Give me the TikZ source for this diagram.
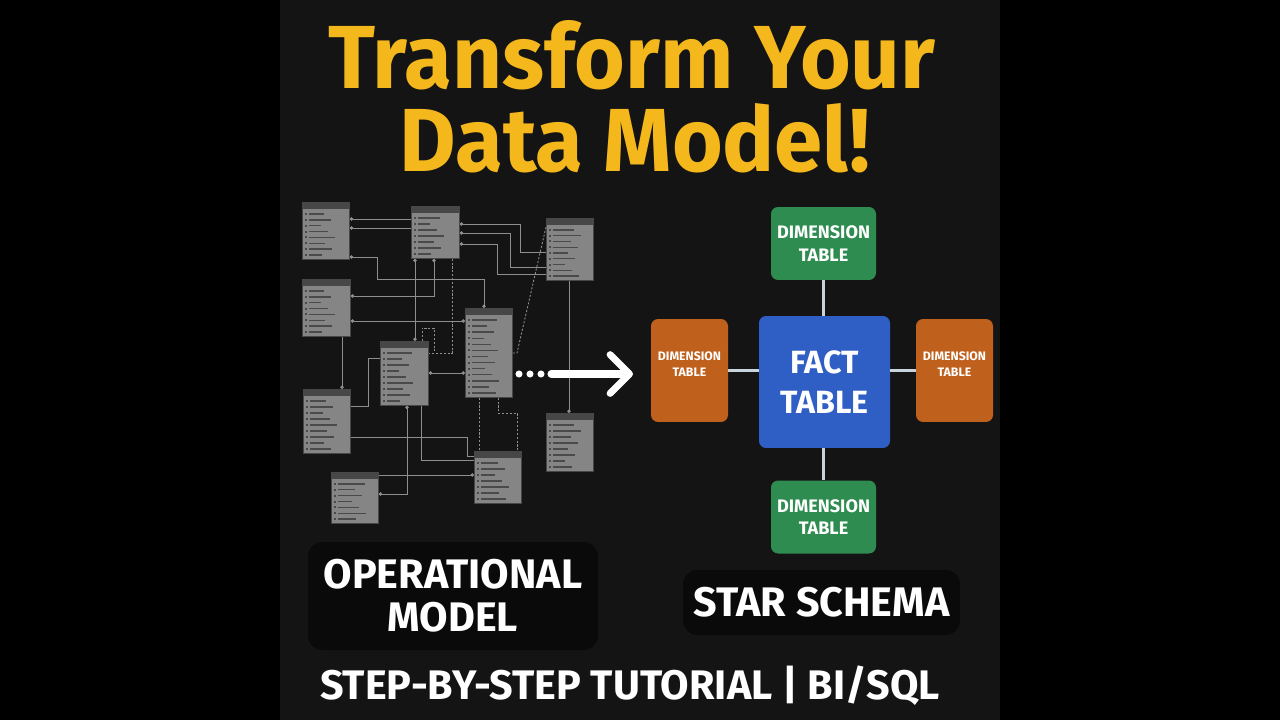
\documentclass[tikz,border=0pt]{standalone}
\usepackage{fontspec}
\setmainfont{Fira Sans}
\usetikzlibrary{arrows.meta,positioning,calc}
\definecolor{panelbg}{HTML}{141414}
\definecolor{titleyel}{HTML}{F5B81C}
\definecolor{erbody}{HTML}{858585}
\definecolor{erhead}{HTML}{474747}
\definecolor{errowc}{HTML}{4A4A4A}
\definecolor{erline}{HTML}{8E8E8E}
\definecolor{dimgreen}{HTML}{2F8C50}
\definecolor{dimorange}{HTML}{BF601C}
\definecolor{factblue}{HTML}{2F5EC4}
\definecolor{starline}{HTML}{C8D3DC}
\definecolor{lblbox}{HTML}{0A0A0A}
\tikzset{
  ertab/.style={draw=erhead,fill=erbody,rectangle,inner sep=0pt,line width=0.4pt,anchor=north west,
    path picture={\fill[erhead] (path picture bounding box.north west) rectangle ([yshift=-4pt]path picture bounding box.north east);}},
  erlink/.style={draw=erline,line width=0.5pt},
  erdash/.style={erlink,dash pattern=on 1.2pt off 1pt},
  errow/.style={draw=errowc,line width=0.8pt},
  dimblk/.style={rectangle,rounded corners=4pt,align=center,text=white,font=\bfseries,inner sep=0pt},
  dimgrn/.style={dimblk,fill=dimgreen,minimum width=2.1cm,minimum height=1.46cm,font=\bfseries\fontsize{10.3}{13}\selectfont},
  dimorg/.style={dimblk,fill=dimorange,minimum width=1.54cm,minimum height=2.06cm},
  orgtxt/.style={text=white,align=center,inner sep=0pt,yshift=3.4pt,font=\bfseries\fontsize{7}{9}\selectfont},
  factblk/.style={dimblk,fill=factblue,minimum width=2.62cm,minimum height=2.64cm,font=\bfseries\fontsize{18.3}{23}\selectfont},
  starlink/.style={draw=starline,line width=1.7pt},
  flowarr/.style={draw=white,line width=4pt,line cap=round,-{Straight Barb[round,length=11pt,width=22pt]}},
  titletxt/.style={text=titleyel,font=\bfseries\fontsize{51}{58}\selectfont,inner sep=0pt,anchor=base},
  lbltxt/.style={text=white,font=\bfseries\fontsize{23.5}{24.5}\selectfont,align=center,inner sep=0pt},
  lblbx/.style={lbltxt,fill=lblbox,rounded corners=8pt}
}
\begin{document}
\begin{tikzpicture}[x=0.02cm,y=-0.02cm]
  \useasboundingbox (0,0) rectangle (1280,720);
  \fill[black] (0,0) rectangle (1280,720);
  \fill[panelbg] (280,0) rectangle (1000,720);

  % title
  \node[titletxt] (title1) at (632,88) {\scalebox{0.97}[1]{Transform Your}};
  \node[titletxt] (title2) at (635,171) {\scalebox{0.97}[1]{Data Model!}};

  % operational model tables
  \foreach \n/\x/\y/\w/\h/\r in {t1/302/202/47/57/8, t2/411/206/48/52/7, t3/546/218/47/62/9,
      t4/302/279/48/57/8, t5/465/308/47/89/13, t6/380/341/48/64/9, t7/303/389/47/64/9,
      t8/546/413/47/58/8, t9/474/451/47/52/7, t10/331/472/47/51/7}{
    \node[ertab,minimum width=\w*0.02cm,minimum height=\h*0.02cm] (\n) at (\x,\y) {};
    \pgfmathsetmacro\dy{(\h-10)/\r}
    \foreach \i in {1,...,\r}{
      \pgfmathsetmacro\ry{\y+9+(\i-0.5)*\dy}
      \pgfmathsetmacro\rl{12+mod(\i*7+\x,17)}
      \fill[errowc] (\x+3,\ry-1) rectangle +(2,2);
      \draw[errow] (\x+7,\ry) -- +(\rl,0);
    }
  }

  % links between tables
  \draw[erlink,-{Circle[length=2pt]}] (t2.west |- 0,219) -- (t1.east |- 0,219);
  \draw[erlink,-{Circle[length=2pt]}] (t2.west |- 0,228) -- (t1.east |- 0,228);
  \draw[erlink,{Circle[length=2pt]}-{Circle[length=2pt]}] (t1.east |- 0,257) -- (377,257) -- (377,279) -- (484,279) -- (t5.north -| 484,0);
  \draw[erlink,{Circle[length=2pt]}-] (t2.east |- 0,224) -- (520,224) -- (520,252) -- (t3.west |- 0,252);
  \draw[erlink,{Circle[length=2pt]}-] (t2.east |- 0,233) -- (510,233) -- (510,267) -- (t3.west |- 0,267);
  \draw[erlink,{Circle[length=2pt]}-] (t2.east |- 0,244) -- (497,244) -- (497,274) -- (t3.west |- 0,274);
  \draw[erlink,{Circle[length=2pt]}-{Circle[length=2pt]}] (t2.south -| 415,0) -- (t6.north -| 415,0);
  \draw[erlink,{Circle[length=2pt]}-{Circle[length=2pt]}] (t2.south -| 434,0) -- (434,296) -- (t4.east |- 0,296);
  \draw[erdash] (t2.south -| 452,0) -- (452,353) -- (t6.east |- 0,353);
  \draw[erdash] (t6.north -| 422,0) -- (422,328) -- (434,328) -- (434,353);
  \draw[erlink,{Circle[length=2pt]}-{Circle[length=2pt]}] (t4.east |- 0,321) -- (t5.west |- 0,321);
  \draw[erlink,-{Circle[length=2pt]}] (t4.south -| 342,0) -- (t7.north -| 342,0);
  \draw[erlink,{Circle[length=2pt]}-{Circle[length=2pt]}] (t6.east |- 0,373) -- (t5.west |- 0,373);
  \draw[erlink] (t7.east |- 0,406) -- (368,406) -- (368,358) -- (t6.west |- 0,358);
  \draw[erlink] (t7.east |- 0,437) -- (467,437) -- (467,456) -- (t9.west |- 0,456);
  \draw[erlink,{Circle[length=2pt]}-{Circle[length=2pt]}] (t6.south -| 407,0) -- (407,494) -- (t10.east |- 0,494);
  \draw[erlink] (t6.south -| 421,0) -- (421,460) -- (t9.west |- 0,460);
  \draw[erlink,-{Circle[length=2pt]}] (t10.east |- 0,475) -- (t9.west |- 0,475);
  \draw[erdash] (t5.south -| 479,0) -- (t9.north -| 479,0);
  \draw[erdash] (t5.south -| 498,0) -- (498,413) -- (517,413) -- (t9.north -| 517,0);
  \draw[erdash] (t5.east |- 0,353) -- (517,353) -- (t3.west |- 0,227);
  \draw[erlink,-{Circle[length=2pt]}] (t3.south -| 569,0) -- (t8.north -| 569,0);

  % transition arrow
  \foreach \dx in {519,530,541}
    \fill[white] (\dx,374) circle[radius=2pt];
  \coordinate (arrs) at (551,374);
  \coordinate (arre) at (633,374);
  \draw[flowarr] (arrs) -- (arre);

  % star schema
  \node[factblk] (fact) at (824.5,382) {FACT\\TABLE};
  \node[dimgrn] (dtop) at (823.5,243.5) {DIMENSION\\TABLE};
  \node[dimgrn] (dbot) at (823.5,517) {DIMENSION\\TABLE};
  \node[dimorg] (dleft) at (689.5,370.5) {};
  \node[dimorg] (dright) at (954.5,370.5) {};
  \node[orgtxt] (dlefttxt) at (dleft) {DIMENSION\\TABLE};
  \node[orgtxt] (drighttxt) at (dright) {DIMENSION\\TABLE};
  \draw[starlink] (dtop.south) -- (fact.north -| dtop.south);
  \draw[starlink] (dbot.north) -- (fact.south -| dbot.north);
  \draw[starlink] (dleft.east) -- (fact.west |- dleft.east);
  \draw[starlink] (dright.west) -- (fact.east |- dright.west);

  % captions
  \node[lblbx,minimum width=5.8cm,minimum height=2.16cm] (opbox) at (453,596) {OPERATIONAL\\MODEL};
  \node[lblbx,minimum width=5.54cm,minimum height=1.3cm] (starbox) at (821.5,602.5) {STAR SCHEMA};
  \node[lbltxt] (foot) at (630,686) {STEP-BY-STEP TUTORIAL | BI/SQL};
\end{tikzpicture}
\end{document}
